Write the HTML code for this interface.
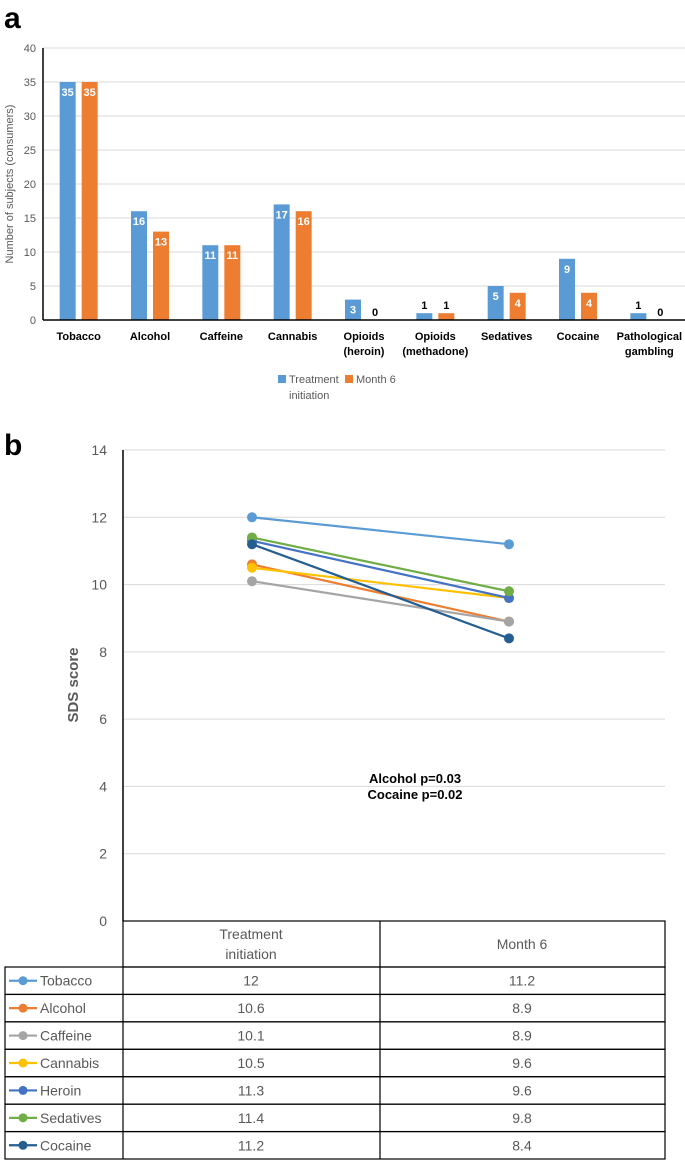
<!DOCTYPE html>
<html><head><meta charset="utf-8"><style>
html,body{margin:0;padding:0;background:#fff;}
svg{display:block;font-family:"Liberation Sans",sans-serif;}
</style></head><body>
<svg id="chart" width="685" height="1160" viewBox="0 0 685 1160" xmlns="http://www.w3.org/2000/svg">
<text x="4" y="28" font-size="30" font-weight="bold" fill="#000">a</text>
<text x="4" y="455" font-size="30" font-weight="bold" fill="#000">b</text>
<g id="chartA"></g>
<g id="chartB"></g>
</svg>
<script>
const categories = ["Tobacco","Alcohol","Caffeine","Cannabis","Opioids|(heroin)","Opioids|(methadone)","Sedatives","Cocaine","Pathological|gambling"];
const initiationValues = [35,16,11,17,3,1,5,9,1];
const month6Values = [35,13,11,16,0,1,4,4,0];
const barTicks = [0,5,10,15,20,25,30,35,40];

const substances = ["Tobacco","Alcohol","Caffeine","Cannabis","Heroin","Sedatives","Cocaine"];
const sdsInitiation = [12,10.6,10.1,10.5,11.3,11.4,11.2];
const sdsMonth6 = [11.2,8.9,8.9,9.6,9.6,9.8,8.4];
const sdsTicks = [0,2,4,6,8,10,12,14];
const timepoints = ["Treatment|initiation","Month 6"];

const NS="http://www.w3.org/2000/svg";
function mk(parent,tag,attrs,text){const e=document.createElementNS(NS,tag);for(const k in attrs)e.setAttribute(k,attrs[k]);if(text!==undefined)e.textContent=text;parent.appendChild(e);return e;}

// ---- Chart A
const A=document.getElementById('chartA');
const ax0=43, ax1=685, ay0=320, ay1=48;
const yA=v=>ay0-(v/40)*(ay0-ay1);
const bandW=(ax1-ax0)/categories.length;
const xA=i=>ax0+bandW*(i+0.5);
barTicks.forEach(t=>{
  if(t>0){const g=mk(A,'line',{x1:ax0,x2:ax1,y1:yA(t),y2:yA(t),stroke:'#d9d9d9','stroke-width':1});
  
  }
  const l=mk(A,'text',{x:36,y:yA(t)+4,'text-anchor':'end','font-size':11,fill:'#595959'},t);
  
  
});
const yt=mk(A,'text',{x:13,y:184,'text-anchor':'middle','font-size':11,fill:'#595959',transform:'rotate(-90 13 184)'},'Number of subjects (consumers)');


function bar(i,v,dx,color,name){
  const x=xA(i)+dx, w=16;
  const r=mk(A,'rect',{x:x,y:yA(v),width:w,height:ay0-yA(v),fill:color});
  
  
  const inside=v>=3;
  const t=mk(A,'text',{x:x+w/2,y:inside?yA(v)+14:yA(v)-4,'text-anchor':'middle','font-size':11,'font-weight':'bold',fill:inside?'#fff':'#000'},v);
  
  
}
categories.forEach((c,i)=>{
  bar(i,initiationValues[i],-19,'#5b9bd5','bar-initiation');
  bar(i,month6Values[i],3,'#ed7d31','bar-month6');
  c.split('|').forEach((ln,k)=>{
    const t=mk(A,'text',{x:xA(i),y:340+k*15,'text-anchor':'middle','font-size':11,'font-weight':'bold',fill:'#000'},ln);
    
    
  });
});
const axl=mk(A,'line',{x1:ax0,x2:ax1,y1:ay0,y2:ay0,stroke:'#000','stroke-width':1.5});


const ayl=mk(A,'line',{x1:ax0,x2:ax0,y1:ay1,y2:ay0,stroke:'#000','stroke-width':1.5});


[[278,'#5b9bd5',['Treatment','initiation']],[345,'#ed7d31',['Month 6']]].forEach(([x,col,lines])=>{
  const s=mk(A,'rect',{x:x,y:375,width:8,height:8,fill:col});
  
  
  lines.forEach((ln,k)=>{const t=mk(A,'text',{x:x+11,y:383+k*16,'font-size':11,fill:'#595959'},ln);
  
  });
});

// ---- Chart B
const B=document.getElementById('chartB');
const bx0=123, bx1=665, by0=921, by1=450;
const yB=v=>by0-(v/14)*(by0-by1);
const xB=[252,509];
const colors=['#5b9bd5','#ed7d31','#a5a5a5','#ffc000','#4472c4','#70ad47','#255e91'];
sdsTicks.forEach(t=>{
  if(t>0){const g=mk(B,'line',{x1:bx0,x2:bx1,y1:yB(t),y2:yB(t),stroke:'#d9d9d9','stroke-width':1});
  
  }
  const l=mk(B,'text',{x:107,y:yB(t)+5,'text-anchor':'end','font-size':14,fill:'#595959'},t);
  
  
});
const yb=mk(B,'text',{x:78,y:685,'text-anchor':'middle','font-size':15,'font-weight':'bold',fill:'#595959',transform:'rotate(-90 78 685)'},'SDS score');


const byl=mk(B,'line',{x1:bx0,x2:bx0,y1:by1,y2:by0,stroke:'#000','stroke-width':1.5});


substances.forEach((s,i)=>{
  const l=mk(B,'line',{x1:xB[0],y1:yB(sdsInitiation[i]),x2:xB[1],y2:yB(sdsMonth6[i]),stroke:colors[i],'stroke-width':2.2});
  
  
  [sdsInitiation[i],sdsMonth6[i]].forEach((v,k)=>{
    const c=mk(B,'circle',{cx:xB[k],cy:yB(v),r:5,fill:colors[i]});
    
    
  });
});
['Alcohol p=0.03','Cocaine p=0.02'].forEach((t,k)=>{
  const e=mk(B,'text',{x:415,y:783+k*16,'text-anchor':'middle','font-size':13,'font-weight':'bold',fill:'#000'},t);
  
  
});
// table
const hdr=mk(B,'rect',{x:bx0,y:by0,width:bx1-bx0,height:46,fill:'none',stroke:'#000','stroke-width':1.2});


const colX=[380];
mk(B,'line',{x1:380,x2:380,y1:by0,y2:1159,stroke:'#000','stroke-width':1.2});
timepoints.forEach((tp,k)=>{
  const cx=k==0?251:522;
  const lines=tp.split('|');
  lines.forEach((ln,j)=>{
    const t=mk(B,'text',{x:cx,y:lines.length>1?939+j*20:949,'text-anchor':'middle','font-size':14,fill:'#595959'},ln);
    
    
  });
});
const rowH=(1159-967)/substances.length;
substances.forEach((s,i)=>{
  const y=967+i*rowH;
  const r=mk(B,'rect',{x:5,y:y,width:bx1-5,height:rowH,fill:'none',stroke:'#000','stroke-width':1.2});
  
  
  mk(B,'line',{x1:bx0,x2:bx0,y1:y,y2:y+rowH,stroke:'#000','stroke-width':1.2});
  mk(B,'line',{x1:9,x2:37,y1:y+rowH/2,y2:y+rowH/2,stroke:colors[i],'stroke-width':2.2});
  mk(B,'circle',{cx:23,cy:y+rowH/2,r:4.5,fill:colors[i]});
  const n=mk(B,'text',{x:40,y:y+rowH/2+5,'font-size':14,fill:'#595959'},s);
  
  
  [sdsInitiation[i],sdsMonth6[i]].forEach((v,k)=>{
    const t=mk(B,'text',{x:k==0?251:522,y:y+rowH/2+5,'text-anchor':'middle','font-size':14,fill:'#595959'},v);
    
    
  });
});
</script>
</body></html>
